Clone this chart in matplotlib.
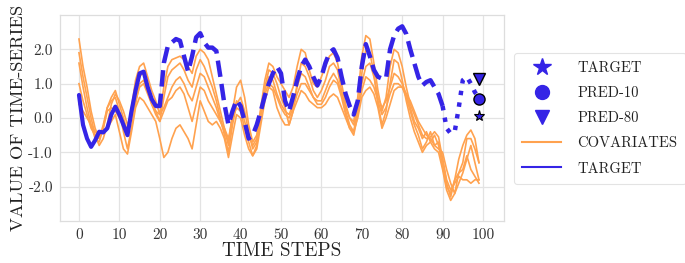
import numpy as np
import matplotlib
matplotlib.use("Agg")
import matplotlib.pyplot as plt
from matplotlib.lines import Line2D
from matplotlib.ticker import FormatStrFormatter

plt.rcParams['font.family'] = ['cmr10', 'DejaVu Serif']
plt.rcParams['mathtext.fontset'] = 'cm'
plt.rcParams['axes.unicode_minus'] = False
plt.rcParams['axes.formatter.use_mathtext'] = False

time_steps = list(range(100))

target = [0.67, -0.2, -0.6, -0.84, -0.65, -0.4, -0.42, -0.3, 0.1, 0.33,
          0.1, -0.2, -0.5, 0.2, 0.8, 1.3, 1.35, 0.9, 0.55, 0.35,
          0.35, 1.6, 2.1, 2.2, 2.3, 2.25, 1.8, 1.35, 1.8, 2.35,
          2.47, 2.2, 2.05, 2.05, 1.95, 1.2, 0.4, -0.2, 0.2, 0.52,
          0.35, -0.1, -0.6, -0.5, -0.2, 0.2, 0.65, 1.0, 1.3, 1.5,
          1.3, 0.5, 0.2, 0.62, 1.1, 1.5, 1.7, 1.5, 1.2, 0.95,
          1.2, 1.6, 1.9, 2.0, 1.75, 1.2, 0.7, 0.35, 0.1, 0.5,
          1.5, 2.15, 1.8, 1.4, 1.2, 1.15, 1.15, 2.0, 2.4, 2.6,
          2.67, 2.45, 2.0, 1.6, 1.2, 0.95, 1.05, 1.1, 0.9, 0.7,
          0.35, -0.3, -0.45, -0.4, 0.3, 1.1, 1.2, 1.0, 0.75, 0.6]

cov_a = [2.3, 1.5, 0.9, 0.2, -0.3, -0.6, -0.3, 0.3, 0.6, 0.8, 0.4, 0.0, -0.4, 0.3, 1.1, 1.5, 1.6, 1.2, 0.8, 0.5,
         0.1, 0.9, 1.5, 1.7, 1.75, 1.8, 1.7, 1.5, 1.3, 1.8, 2.0, 1.9, 1.7, 1.2, 0.7, 0.2, -0.3, -0.8, 0.2, 0.9,
         1.1, 0.6, -0.2, -0.7, -0.5, 0.3, 1.1, 1.6, 1.5, 1.2, 1.0, 0.8, 0.6, 0.9, 1.5, 2.0, 1.9, 1.4, 1.0, 0.9,
         1.2, 1.5, 1.8, 1.9, 1.6, 1.0, 0.4, 0.0, -0.1, 0.6, 1.8, 2.4, 2.3, 1.6, 0.8, 0.2, 0.6, 1.5, 2.0, 1.9,
         1.5, 0.9, 0.4, 0.1, -0.2, -0.5, -0.6, -0.55, -0.4, -0.55, -1.2, -1.9, -2.3, -1.8, -1.2, -0.8, -0.5, -0.35, -0.6, -1.3]
cov_b = [1.9, 1.2, 0.6, 0.0, -0.5, -0.8, -0.6, -0.2, 0.4, 0.7, 0.5, 0.2, -0.2, 0.1, 0.7, 1.2, 1.35, 1.0, 0.5, 0.2,
         -0.1, 0.6, 1.2, 1.4, 1.5, 1.6, 1.4, 1.1, 0.9, 1.4, 1.7, 1.5, 1.2, 0.9, 0.5, 0.0, -0.5, -1.0, -0.2, 0.4,
         0.6, 0.2, -0.4, -0.9, -0.7, 0.1, 0.9, 1.4, 1.3, 1.0, 0.6, 0.3, -0.2, 0.2, 1.0, 1.6, 1.5, 1.2, 0.8, 0.6,
         0.8, 1.1, 1.5, 1.6, 1.4, 0.8, 0.2, -0.2, -0.4, 0.3, 1.3, 2.0, 1.9, 1.3, 0.4, -0.2, 0.2, 1.0, 1.7, 1.6,
         1.1, 0.5, 0.0, -0.4, -0.7, -1.0, -0.8, -0.7, -0.9, -1.0, -1.5, -2.1, -2.4, -2.2, -1.9, -1.6, -1.2, -0.8, -1.3, -1.8]
cov_c = [1.6, 0.9, 0.3, -0.2, -0.6, -0.7, -0.3, 0.2, 0.3, 0.2, 0.0, -0.2, -0.4, 0.0, 0.5, 0.9, 1.0, 0.7, 0.4, 0.2,
         0.1, 0.3, 0.6, 0.9, 1.1, 1.2, 1.0, 0.7, 0.5, 0.9, 1.3, 1.2, 0.9, 0.6, 0.3, -0.1, -0.4, -0.7, 0.0, 0.5,
         0.3, -0.1, -0.5, -0.8, -0.6, 0.2, 0.8, 1.2, 1.1, 0.7, 0.4, 0.2, 0.1, 0.4, 0.9, 1.3, 1.2, 0.9, 0.6, 0.5,
         0.5, 0.8, 1.1, 1.3, 1.1, 0.7, 0.3, 0.0, -0.2, 0.3, 1.0, 1.5, 1.6, 1.2, 0.6, 0.3, 0.5, 0.9, 1.3, 1.2,
         1.0, 0.7, 0.3, -0.1, -0.3, -0.6, -0.4, -0.7, -0.5, -0.8, -1.4, -2.0, -2.2, -1.8, -1.6, -1.5, -1.1, -1.5, -1.7, -1.9]
cov_d = [1.0, 0.5, 0.1, -0.3, -0.5, -0.6, -0.2, 0.3, 0.5, 0.6, 0.2, -0.4, -0.9, -0.3, 0.4, 1.0, 1.1, 0.8, 0.4, 0.1,
         -0.1, 0.2, 0.5, 0.6, 0.8, 0.9, 0.7, 0.3, -0.1, 0.4, 0.9, 0.8, 0.5, 0.3, 0.1, -0.1, -0.3, -0.6, 0.0, 0.3,
         0.2, -0.3, -0.7, -1.1, -0.8, 0.0, 0.7, 1.0, 0.9, 0.6, 0.3, 0.1, 0.0, 0.3, 0.7, 1.0, 1.0, 0.8, 0.6, 0.4,
         0.4, 0.6, 0.9, 1.1, 1.0, 0.6, 0.1, -0.3, -0.5, 0.1, 0.8, 1.2, 1.1, 0.9, 0.5, 0.1, 0.3, 0.7, 1.0, 1.0,
         0.9, 0.6, 0.2, -0.2, -0.5, -0.9, -0.7, -0.4, -0.8, -0.7, -1.2, -1.8, -2.1, -1.9, -1.7, -1.8, -1.8, -1.9, -1.8, -1.8]
cov_e = [0.4, 0.2, 0.0, -0.2, -0.4, -0.5, -0.4, -0.3, -0.1, 0.1, -0.4, -0.9, -1.05, -0.4, 0.3, 0.6, 0.5, 0.3, 0.1, -0.1,
         -0.6, -1.15, -1.0, -0.6, -0.3, -0.2, -0.4, -0.6, -0.9, -0.2, 0.5, 0.2, -0.1, -0.2, -0.1, -0.3, -0.6, -1.15, -0.5, 0.1,
         0.0, -0.5, -0.9, -1.1, -0.9, -0.2, 0.5, 0.9, 0.8, 0.3, 0.0, -0.2, -0.2, 0.2, 0.5, 0.8, 0.7, 0.5, 0.4, 0.3,
         0.3, 0.4, 0.6, 0.7, 0.6, 0.3, 0.0, -0.3, -0.4, 0.0, 0.6, 0.8, 0.9, 0.7, 0.3, -0.3, 0.0, 0.4, 0.8, 0.9,
         0.9, 0.7, 0.5, 0.2, -0.1, -0.3, -0.5, -0.6, -0.8, -0.9, -1.0, -1.5, -1.9, -2.2, -1.6, -1.3, -0.6, -0.6, -0.9, -1.3]
covariates = [cov_a, cov_b, cov_c, cov_d, cov_e]

context_end = 19      # end of observed (solid) part
forecast_split = 90   # dashed -> dotted
marker_step = 99
target_value = 0.06
pred_10 = 0.55
pred_80 = 1.14

xticks = list(range(0, 101, 10))
yticks = [-2.0, -1.0, 0.0, 1.0, 2.0]

ORANGE = '#ffa24f'
BLUE = '#3524e6'

fig = plt.figure(figsize=(6.85, 2.63), dpi=100)
ax = fig.add_axes([60/685, 1-221/263, (504-60)/685, (221-15)/263])

t = np.array(time_steps)
y = np.array(target)
for c in covariates:
    ax.plot(t, c, color=ORANGE, lw=1.2, zorder=2)

ax.plot(t[:context_end+1], y[:context_end+1], color=BLUE, lw=3, zorder=3,
        solid_capstyle='round')
ax.plot(t[context_end:forecast_split+1], y[context_end:forecast_split+1], color=BLUE,
        lw=3.2, ls='--', zorder=3)
ax.plot(t[forecast_split:], y[forecast_split:], color=BLUE, lw=3.2, ls=':', zorder=3)

ax.plot([marker_step], [pred_80], marker='v', ms=8, color=BLUE, mec='black', mew=1.0, ls='none', zorder=4)
ax.plot([marker_step], [pred_10], marker='o', ms=8, color=BLUE, mec='black', mew=1.0, ls='none', zorder=4)
ax.plot([marker_step], [target_value], marker='*', ms=8, color=BLUE, mec='black', mew=0.8, ls='none', zorder=4)

ax.set_xlim(-4.7, 105.2)
ax.set_ylim(-3.0, 3.0)
ax.set_xticks(xticks)
ax.set_yticks(yticks)
ax.yaxis.set_major_formatter(FormatStrFormatter('%.1f'))
ax.tick_params(length=0, labelsize=11, colors='#333333', pad=5)
ax.grid(True, color='#e3e3e3', lw=0.9)
ax.set_axisbelow(True)
for s in ax.spines.values():
    s.set_color('#dddddd')
    s.set_linewidth(0.9)

ax.set_xlabel('TIME STEPS', fontsize=13.8, color='#222222', labelpad=0)
ax.set_ylabel('VALUE OF TIME-SERIES', fontsize=13.3, color='#222222', labelpad=2)

handles = [
    Line2D([], [], marker='*', ms=13, color=BLUE, ls='none'),
    Line2D([], [], marker='o', ms=10, color=BLUE, ls='none'),
    Line2D([], [], marker='v', ms=10, color=BLUE, ls='none'),
    Line2D([], [], color=ORANGE, lw=1.5),
    Line2D([], [], color=BLUE, lw=1.5),
]
labels = ['TARGET', 'PRED-10', 'PRED-80', 'COVARIATES', 'TARGET']
leg = fig.legend(handles, labels, loc='center left',
                 bbox_to_anchor=(514/685, 1-118.5/263), fontsize=10.5,
                 frameon=True, fancybox=True, edgecolor='#dddddd',
                 handlelength=2.7, labelspacing=0.78, borderpad=0.55,
                 handletextpad=1.1, borderaxespad=0)
leg.get_frame().set_linewidth(0.8)
for txt in leg.get_texts():
    txt.set_color('#222222')

fig.savefig('out.png', dpi=100)
